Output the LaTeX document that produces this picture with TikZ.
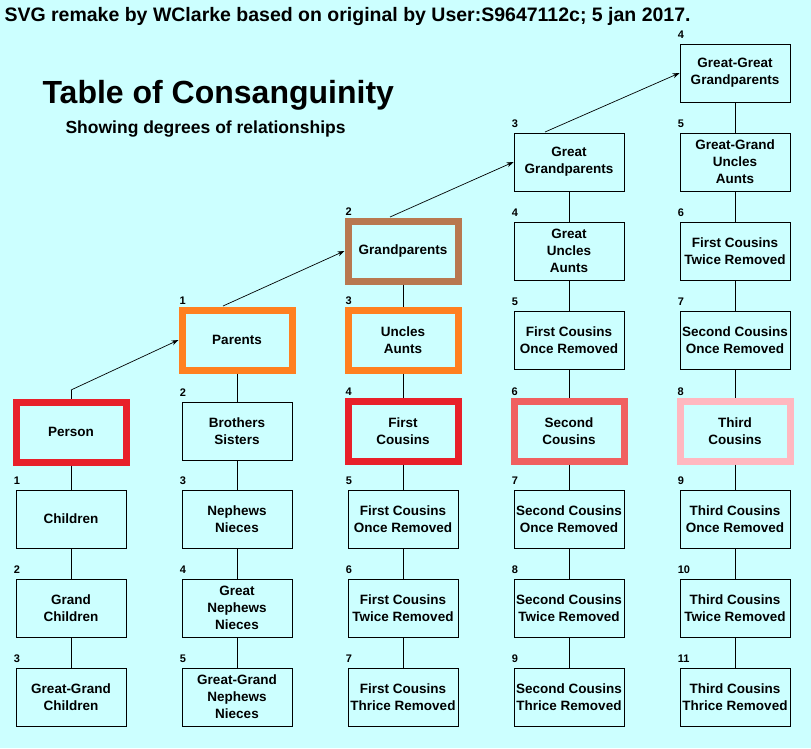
\documentclass[tikz,border=0pt]{standalone}
\usepackage{fontspec}
\setmainfont{Liberation Sans}
\usetikzlibrary{arrows.meta,calc}
\definecolor{bg}{HTML}{CCFFFF}
\definecolor{cred}{HTML}{E8202A}
\definecolor{corange}{HTML}{FF8020}
\definecolor{cbrown}{HTML}{B87850}
\definecolor{csalmon}{HTML}{F06060}
\definecolor{cpink}{HTML}{FFB8C0}
\begin{document}
\begin{tikzpicture}[x=1pt,y=-1pt,
  rel/.style={draw=black,line width=0.8pt,minimum width=110pt,minimum height=58pt,inner sep=1pt,align=center,font=\bfseries\fontsize{13.5}{17}\selectfont},
  hot/.style={rel,line width=7pt,minimum width=110pt,minimum height=60pt},
  num/.style={font=\bfseries\fontsize{11}{12}\selectfont,anchor=south west,inner sep=0pt},
  link/.style={line width=0.7pt},
  arr/.style={line width=0.7pt,-{Stealth[length=7pt,width=5pt]}}]
\fill[bg] (0,0) rectangle (811,748);
\node[anchor=west,font=\bfseries\fontsize{19.5}{22}\selectfont] at (1,16) {SVG remake by WClarke based on original by User:S9647112c; 5 jan 2017.};
\node[anchor=west,font=\bfseries\fontsize{32}{36}\selectfont] at (39,95) {Table of Consanguinity};
\node[anchor=west,font=\bfseries\fontsize{17.5}{20}\selectfont] at (62,129) {Showing degrees of relationships};
% column 1
\node[hot,draw=cred] (p) at (71,432) {Person};
\node[rel] (c1) at (71,519) {Children};
\node[rel] (c2) at (71,608) {Grand\\Children};
\node[rel] (c3) at (71,697) {Great-Grand\\Children};
% column 2
\node[hot,draw=corange] (pa) at (237,340) {Parents};
\node[rel] (b1) at (237,431) {Brothers\\Sisters};
\node[rel] (b2) at (237,519) {Nephews\\Nieces};
\node[rel] (b3) at (237,608) {Great\\Nephews\\Nieces};
\node[rel] (b4) at (237,697) {Great-Grand\\Nephews\\Nieces};
% column 3
\node[hot,draw=cbrown] (gp) at (403,251) {Grandparents};
\node[hot,draw=corange] (u1) at (403,340) {Uncles\\Aunts};
\node[hot,draw=cred] (u2) at (403,431) {First\\Cousins};
\node[rel] (u3) at (403,519) {First Cousins\\Once Removed};
\node[rel] (u4) at (403,608) {First Cousins\\Twice Removed};
\node[rel] (u5) at (403,697) {First Cousins\\Thrice Removed};
% column 4
\node[rel] (g0) at (569,162) {Great\\Grandparents};
\node[rel] (g1) at (569,251) {Great\\Uncles\\Aunts};
\node[rel] (g2) at (569,340) {First Cousins\\Once Removed};
\node[hot,draw=csalmon] (g3) at (569,431) {Second\\Cousins};
\node[rel] (g4) at (569,519) {Second Cousins\\Once Removed};
\node[rel] (g5) at (569,608) {Second Cousins\\Twice Removed};
\node[rel] (g6) at (569,697) {Second Cousins\\Thrice Removed};
% column 5
\node[rel] (h0) at (735,73) {Great-Great\\Grandparents};
\node[rel] (h1) at (735,162) {Great-Grand\\Uncles\\Aunts};
\node[rel] (h2) at (735,251) {First Cousins\\Twice Removed};
\node[rel] (h3) at (735,340) {Second Cousins\\Once Removed};
\node[hot,draw=cpink] (h4) at (735,431) {Third\\Cousins};
\node[rel] (h5) at (735,519) {Third Cousins\\Once Removed};
\node[rel] (h6) at (735,608) {Third Cousins\\Twice Removed};
\node[rel] (h7) at (735,697) {Third Cousins\\Thrice Removed};
% vertical links
\foreach \a/\b in {p/c1,c1/c2,c2/c3,pa/b1,b1/b2,b2/b3,b3/b4,gp/u1,u1/u2,u2/u3,u3/u4,u4/u5,g0/g1,g1/g2,g2/g3,g3/g4,g4/g5,g5/g6,h0/h1,h1/h2,h2/h3,h3/h4,h4/h5,h5/h6,h6/h7}
  \draw[link] (\a) -- (\b);
% arrows
\coordinate (a1) at (71,390);
\coordinate (a2) at (223,306);
\coordinate (a3) at (390,217);
\coordinate (a4) at (545,132);
\draw[link] (p.north) -- (a1);
\draw[arr] (a1) -- (pa.west);
\draw[arr] (a2) -- (gp.west);
\draw[arr] (a3) -- (g0.west);
\draw[arr] (a4) -- (h0.west);
% numbers
\foreach \n/\t in {c1/1,c2/2,c3/3,b1/2,b2/3,b3/4,b4/5,u3/5,u4/6,u5/7,g0/3,g1/4,g2/5,g4/7,g5/8,g6/9,h0/4,h1/5,h2/6,h3/7,h5/9,h6/10,h7/11}
  \node[num] at ($(\n.north west)+(-2,-5)$) {\t};
\foreach \n/\t in {pa/1,gp/2,u1/3,u2/4,g3/6,h4/8}
  \node[num] at ($(\n.north west)+(1,-2)$) {\t};
\end{tikzpicture}
\end{document}
